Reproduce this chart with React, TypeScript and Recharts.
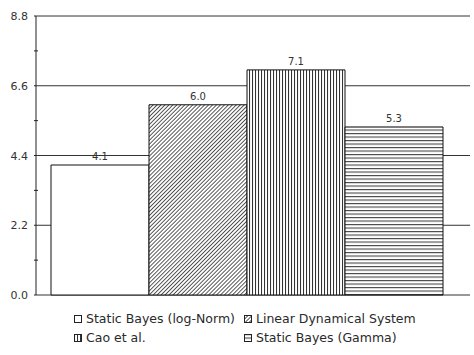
import React from "react";
import { Bar, BarChart, CartesianGrid, LabelList, Legend, XAxis, YAxis } from "recharts";

const CATEGORY = ["all"];
const SERIES_NAMES = [
	"Static Bayes (log-Norm)",
	"Linear Dynamical System",
	"Cao et al.",
	"Static Bayes (Gamma)",
];
const SERIES_VALUES = [4.1, 6.0, 7.1, 5.3];
const MAJOR_TICKS = [0, 2.2, 4.4, 6.6, 8.8];
const MINOR_TICKS = [1.1, 3.3, 5.5, 7.7];

const FILLS = ["#ffffff", "url(#diag)", "url(#vert)", "url(#horiz)"];
const KEYS = ["s0", "s1", "s2", "s3"];

const data = CATEGORY.map((name) => {
	const row: Record<string, string | number> = { name };
	SERIES_VALUES.forEach((v, i) => {
		row[KEYS[i]] = v;
	});
	return row;
});

const FONT = "'DejaVu Sans', Verdana, sans-serif";

function YTick(props: any) {
	const { x, y, payload } = props;
	const isMinor = MINOR_TICKS.includes(payload.value);
	if (isMinor) {
		return <line x1={x + 6} x2={x + 10} y1={y} y2={y} stroke="#222" strokeWidth={1} />;
	}
	return (
		<g>
			<line x1={x + 6} x2={x + 8} y1={y} y2={y} stroke="#222" strokeWidth={1} />
			<text x={x} y={y + 4} textAnchor="end" fontSize={11} fill="#333" fontFamily={FONT}>
				{payload.value.toFixed(1)}
			</text>
		</g>
	);
}

function LegendBox() {
	const cell = (i: number) => (
		<div key={i} style={{ display: "flex", alignItems: "center", height: 19 }}>
			<svg width={8} height={8} style={{ marginRight: 4 }}>
				<rect x={0.5} y={0.5} width={7} height={7} fill={FILLS[i]} stroke="#222" />
			</svg>
			<span>{SERIES_NAMES[i]}</span>
		</div>
	);
	return (
		<div
			style={{
				display: "grid",
				gridTemplateColumns: "170px 210px",
				marginLeft: 74,
				paddingTop: 14,
				fontFamily: FONT,
				fontSize: 12.5,
				color: "#2a2a2a",
			}}
		>
			{cell(0)}
			{cell(1)}
			{cell(2)}
			{cell(3)}
		</div>
	);
}

export default function App() {
	return (
		<div style={{ position: "absolute", left: 0, top: 0, background: "#fff" }}>
			<BarChart
				width={474}
				height={355}
				data={data}
				margin={{ top: 16, right: 4, bottom: 0, left: 0 }}
				barGap={0}
				barCategoryGap={15}
			>
				<defs>
					<pattern id="diag" width={2.8} height={2.8} patternUnits="userSpaceOnUse" patternTransform="rotate(45)">
						<rect width={2.8} height={2.8} fill="#fff" />
						<line x1={0} y1={0} x2={0} y2={2.8} stroke="#222" strokeWidth={1.5} />
					</pattern>
					<pattern id="vert" width={3} height={3} patternUnits="userSpaceOnUse">
						<rect width={3} height={3} fill="#fff" />
						<line x1={0.5} y1={0} x2={0.5} y2={3} stroke="#333" strokeWidth={1.1} />
					</pattern>
					<pattern id="horiz" width={3.5} height={3.5} patternUnits="userSpaceOnUse">
						<rect width={3.5} height={3.5} fill="#fff" />
						<line x1={0} y1={0.5} x2={3.5} y2={0.5} stroke="#444" strokeWidth={1.2} />
					</pattern>
				</defs>
				<CartesianGrid
					vertical={false}
					horizontalValues={MAJOR_TICKS}
					stroke="#333"
					strokeWidth={1}
				/>
				<XAxis dataKey="name" hide padding={{ left: 0, right: 11 }} />
				<YAxis
					width={36}
					domain={[0, 8.8]}
					ticks={[...MAJOR_TICKS, ...MINOR_TICKS].sort((a, b) => a - b)}
					tick={<YTick />}
					tickLine={false}
					axisLine={{ stroke: "#222" }}
					interval={0}
				/>
				<Legend verticalAlign="bottom" height={60} content={() => <LegendBox />} />
				{KEYS.map((k, i) => (
					<Bar
						key={k}
						dataKey={k}
						name={SERIES_NAMES[i]}
						fill={FILLS[i]}
						stroke="#111"
						strokeWidth={1}
						isAnimationActive={false}
					>
						<LabelList
							dataKey={k}
							position="top"
							formatter={(v: any) => Number(v).toFixed(1)}
							fontSize={10}
							fill="#333"
							fontFamily={FONT}
						/>
					</Bar>
				))}
			</BarChart>
		</div>
	);
}
